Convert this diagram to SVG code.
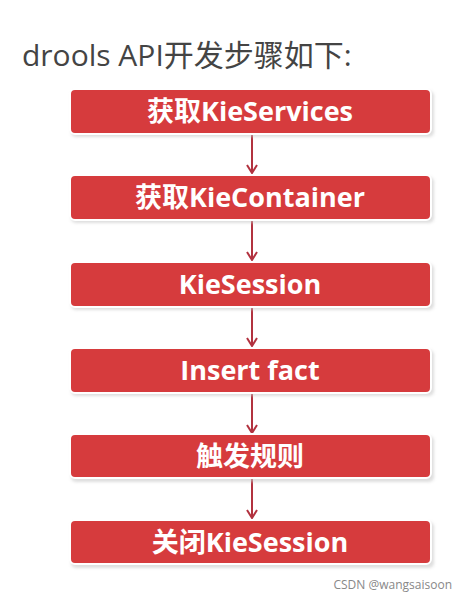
<svg xmlns="http://www.w3.org/2000/svg" width="466" height="602" viewBox="0 0 466 602">
<style>
.box{fill:#d63b3d;stroke:#ffffff;stroke-width:2}
.sh{fill:#c8c8c8;opacity:0.6}
.t{font-family:"Open Sans","Noto Sans CJK SC",sans-serif;font-weight:bold;font-size:27px;fill:#ffffff;text-anchor:middle}
.c{stroke:#b2323f;stroke-width:2;fill:none}
</style>
<defs>
<marker id="ah" viewBox="0 0 10 12" refX="9" refY="6" markerWidth="10" markerHeight="12" markerUnits="userSpaceOnUse" orient="auto">
<path d="M1,1 L9,6 L1,11" fill="none" stroke="#b2323f" stroke-width="2"/>
</marker>
<filter id="blur"><feGaussianBlur stdDeviation="1.5"/></filter>
</defs>
<rect width="466" height="602" fill="#ffffff"/>
<text x="22" y="66" font-family="'Open Sans','Noto Sans CJK SC',sans-serif" font-size="30" fill="#444444">drools API开发步骤如下:</text>
<g id="connectors">
<line class="c" x1="252" y1="135" x2="252" y2="173" marker-end="url(#ah)"/>
<line class="c" x1="252" y1="221" x2="252" y2="260" marker-end="url(#ah)"/>
<line class="c" x1="252" y1="308" x2="252" y2="346" marker-end="url(#ah)"/>
<line class="c" x1="252" y1="394" x2="252" y2="433" marker-end="url(#ah)"/>
<line class="c" x1="252" y1="479" x2="252" y2="518" marker-end="url(#ah)"/>
</g>
<g id="n1"><rect class="sh" x="71" y="91" width="363" height="46" rx="5" filter="url(#blur)"/><rect class="box" x="70" y="89" width="361" height="45" rx="5"/><text class="t" x="250" y="121">获取KieServices</text></g>
<g id="n2"><rect class="sh" x="71" y="177" width="363" height="46" rx="5" filter="url(#blur)"/><rect class="box" x="70" y="175" width="361" height="45" rx="5"/><text class="t" x="250" y="207">获取KieContainer</text></g>
<g id="n3"><rect class="sh" x="71" y="264" width="363" height="46" rx="5" filter="url(#blur)"/><rect class="box" x="70" y="262" width="361" height="45" rx="5"/><text class="t" x="250" y="294">KieSession</text></g>
<g id="n4"><rect class="sh" x="71" y="350" width="363" height="46" rx="5" filter="url(#blur)"/><rect class="box" x="70" y="348" width="361" height="45" rx="5"/><text class="t" x="250" y="380">Insert fact</text></g>
<g id="n5"><rect class="sh" x="71" y="436" width="363" height="46" rx="5" filter="url(#blur)"/><rect class="box" x="70" y="434" width="361" height="44" rx="5"/><text class="t" x="250" y="466">触发规则</text></g>
<g id="n6"><rect class="sh" x="71" y="522" width="363" height="46" rx="5" filter="url(#blur)"/><rect class="box" x="70" y="520" width="361" height="44" rx="5"/><text class="t" x="250" y="552">关闭KieSession</text></g>
<text x="452" y="589" font-family="'Open Sans',sans-serif" font-size="12" fill="#888888" text-anchor="end">CSDN @wangsaisoon</text>
</svg>
